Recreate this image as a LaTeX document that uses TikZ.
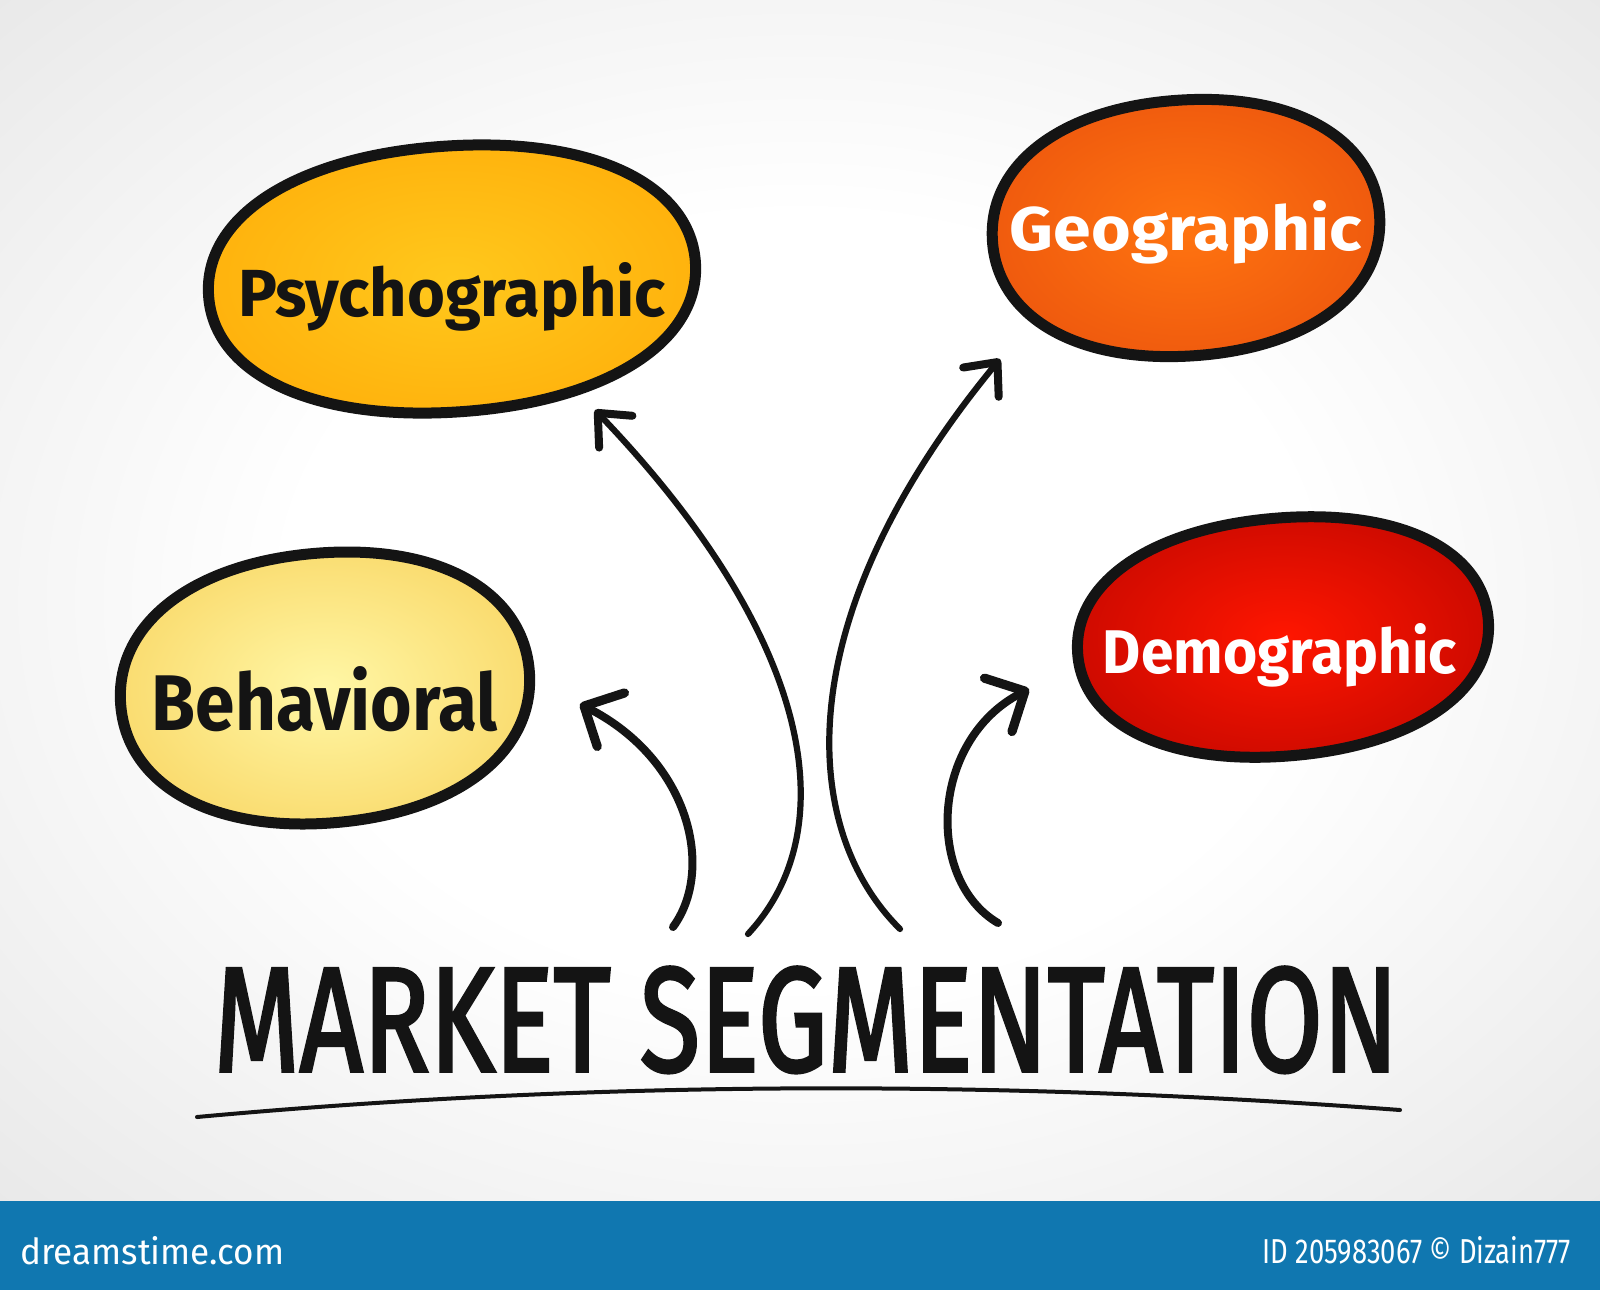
\documentclass[tikz,border=0pt]{standalone}
\usepackage{fontspec}
\setmainfont{Fira Sans}
\newfontfamily\titlefont{Fira Sans}[FakeBold=2.4]
\usetikzlibrary{arrows.meta}
\definecolor{barblue}{HTML}{1077B0}
\definecolor{ink}{HTML}{141414}
\definecolor{psyin}{HTML}{FFC81C}
\definecolor{psyout}{HTML}{FFA000}
\definecolor{geoin}{HTML}{FF7410}
\definecolor{geoout}{HTML}{E2440C}
\definecolor{behin}{HTML}{FFF7A6}
\definecolor{behout}{HTML}{F5C440}
\definecolor{demin}{HTML}{FF1600}
\definecolor{demout}{HTML}{A40000}
\pgfdeclareradialshading{psyshade}{\pgfpoint{0bp}{0bp}}{color(0bp)=(psyin); color(46bp)=(psyout); color(50bp)=(psyout)}
\pgfdeclareradialshading{geoshade}{\pgfpoint{0bp}{0bp}}{color(0bp)=(geoin); color(46bp)=(geoout); color(50bp)=(geoout)}
\pgfdeclareradialshading{behshade}{\pgfpoint{0bp}{0bp}}{color(0bp)=(behin); color(46bp)=(behout); color(50bp)=(behout)}
\pgfdeclareradialshading{demshade}{\pgfpoint{0bp}{0bp}}{color(0bp)=(demin); color(46bp)=(demout); color(50bp)=(demout)}
\pgfdeclareradialshading{bgshade}{\pgfpoint{0bp}{0bp}}{color(0bp)=(white); color(16bp)=(white); color(50bp)=(black!15)}
\newcommand\blobdraw[5]{%
  \begin{scope}[shift={(#1)}, rotate=#4]
    \shade[shading=#5, draw=ink, line width=5.5pt, line join=round]
      (#2,0) .. controls (#2,0.6*#3) and (0.6*#2,#3) .. (0,#3)
      .. controls (-0.6*#2,#3) and (-#2,0.6*#3) .. (-#2,0)
      .. controls (-#2,-0.6*#3) and (-0.6*#2,-#3) .. (0,-#3)
      .. controls (0.6*#2,-#3) and (#2,-0.6*#3) .. (#2,0) -- cycle;
  \end{scope}}
\tikzset{
  lbl/.style={anchor=base, inner sep=0pt, font=\bfseries},
  arrlong/.style={draw=ink, line width=3.1pt, line cap=round,
    -{Straight Barb[length=13pt,width=23pt,line width=4pt,round]}},
  arrshort/.style={draw=ink, line width=4pt, line cap=round,
    -{Straight Barb[length=15pt,width=30pt,line width=4.6pt,round]}}
}
\begin{document}
\begin{tikzpicture}[x=0.5pt,y=-0.5pt]
\useasboundingbox (0,0) rectangle (1600,1290);
% background
\shade[shading=bgshade] (0,0) rectangle (1600,1201);
\fill[barblue] (0,1201) rectangle (1600,1290);
% ellipse centres
\coordinate (psy) at (452,279);
\coordinate (geo) at (1186,228);
\coordinate (beh) at (325,688);
\coordinate (dem) at (1283,637);
% ellipses
\blobdraw{psy}{244}{133}{4}{psyshade}
\blobdraw{geo}{194}{128}{4}{geoshade}
\blobdraw{beh}{205}{135}{5}{behshade}
\blobdraw{dem}{206}{119}{5}{demshade}
% labels
\node[lbl, text=ink] (psyt) at (452,316) {\resizebox{214pt}{27pt}{Psychographic}};
\node[lbl, text=white] (geot) at (1186,250) {\resizebox{176pt}{25pt}{Geographic}};
\node[lbl, text=ink] (beht) at (325,730) {\resizebox{173pt}{32pt}{Behavioral}};
\node[lbl, text=white] (demt) at (1280,673) {\resizebox{177pt}{25pt}{Demographic}};
% title
\node[anchor=base, inner sep=0pt, text=ink, font=\titlefont] (title) at (806,1071) {\resizebox{592pt}{52pt}{MARKET SEGMENTATION}};
\draw[ink, line width=2pt, line cap=round] (197,1117) .. controls (600,1080) and (1000,1080) .. (1400,1110);
% arrow endpoints
\coordinate (sB) at (673,927);
\coordinate (tB) at (580,704);
\coordinate (sP) at (748,934);
\coordinate (tP) at (595,410);
\coordinate (sG) at (900,929);
\coordinate (tG) at (1000,359);
\coordinate (sD) at (998,923);
\coordinate (tD) at (1029,689);
% arrows
\draw[arrshort] (sB) .. controls (715,870) and (690,760) .. (tB);
\draw[arrlong] (sP) .. controls (845,830) and (815,640) .. (tP);
\draw[arrlong] (sG) .. controls (800,830) and (785,620) .. (tG);
\draw[arrshort] (sD) .. controls (925,880) and (930,740) .. (tD);
% footer
\node[anchor=base west, inner sep=0pt, text=white] (dt) at (20,1264) {\resizebox{132pt}{14pt}{dreamstime.com}};
\node[anchor=base east, inner sep=0pt, text=white] (idt) at (1571,1263) {\resizebox{154pt}{13.5pt}{ID 205983067 © Dizain777}};
\end{tikzpicture}
\end{document}
